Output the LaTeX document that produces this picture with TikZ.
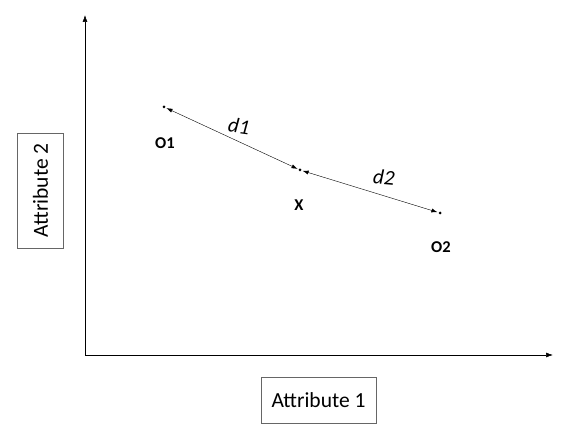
\documentclass[tikz,border=0pt]{standalone}
\usepackage{fontspec}
\setmainfont{Carlito}
\usetikzlibrary{arrows.meta}

\tikzset{
  pt/.style={circle, fill=black, inner sep=0pt, minimum size=3pt},
  lbl/.style={font=\bfseries\fontsize{16.5}{19}\selectfont},
  dist/.style={font=\itshape\fontsize{21}{24}\selectfont},
  attrbox/.style={draw=black!60, font=\fontsize{21.5}{25}\selectfont, minimum width=115pt, minimum height=46pt}
}

\begin{document}
\begin{tikzpicture}[x=1pt, y=-1pt]
\useasboundingbox (0,0) rectangle (571,446);

% Axes
\coordinate (origin) at (85,355);
\coordinate (ytop) at (85,15);
\coordinate (xend) at (553,355);
\draw[semithick, -{Latex[length=7pt,width=5pt]}] (origin) -- (ytop);
\draw[semithick, -{Latex[length=7pt,width=5pt]}] (origin) -- (xend);

% Axis labels
\node[attrbox] (attr1) at (318.5,400) {Attribute 1};
\node[attrbox, rotate=90] (attr2) at (40.5,190.5) {Attribute 2};

% Objects and point X
\node[pt] (o1) at (164,107) {};
\node[pt] (x) at (300,170) {};
\node[pt] (o2) at (440,213) {};

% Distances
\draw[{Latex[length=6pt,width=4pt]}-{Latex[length=6pt,width=4pt]}, shorten <=1pt, shorten >=1pt] (o1) -- (x);
\draw[{Latex[length=6pt,width=4pt]}-{Latex[length=6pt,width=4pt]}, shorten <=1pt, shorten >=1pt] (x) -- (o2);
\node[dist, rotate=-8] (d1) at (239,126) {d1};
\node[dist, rotate=-5] (d2) at (384,177) {d2};

% Labels
\node[lbl] (o1lbl) at (165,143) {O1};
\node[lbl] (xlbl) at (299,205) {X};
\node[lbl] (o2lbl) at (441,247) {O2};
\end{tikzpicture}
\end{document}
